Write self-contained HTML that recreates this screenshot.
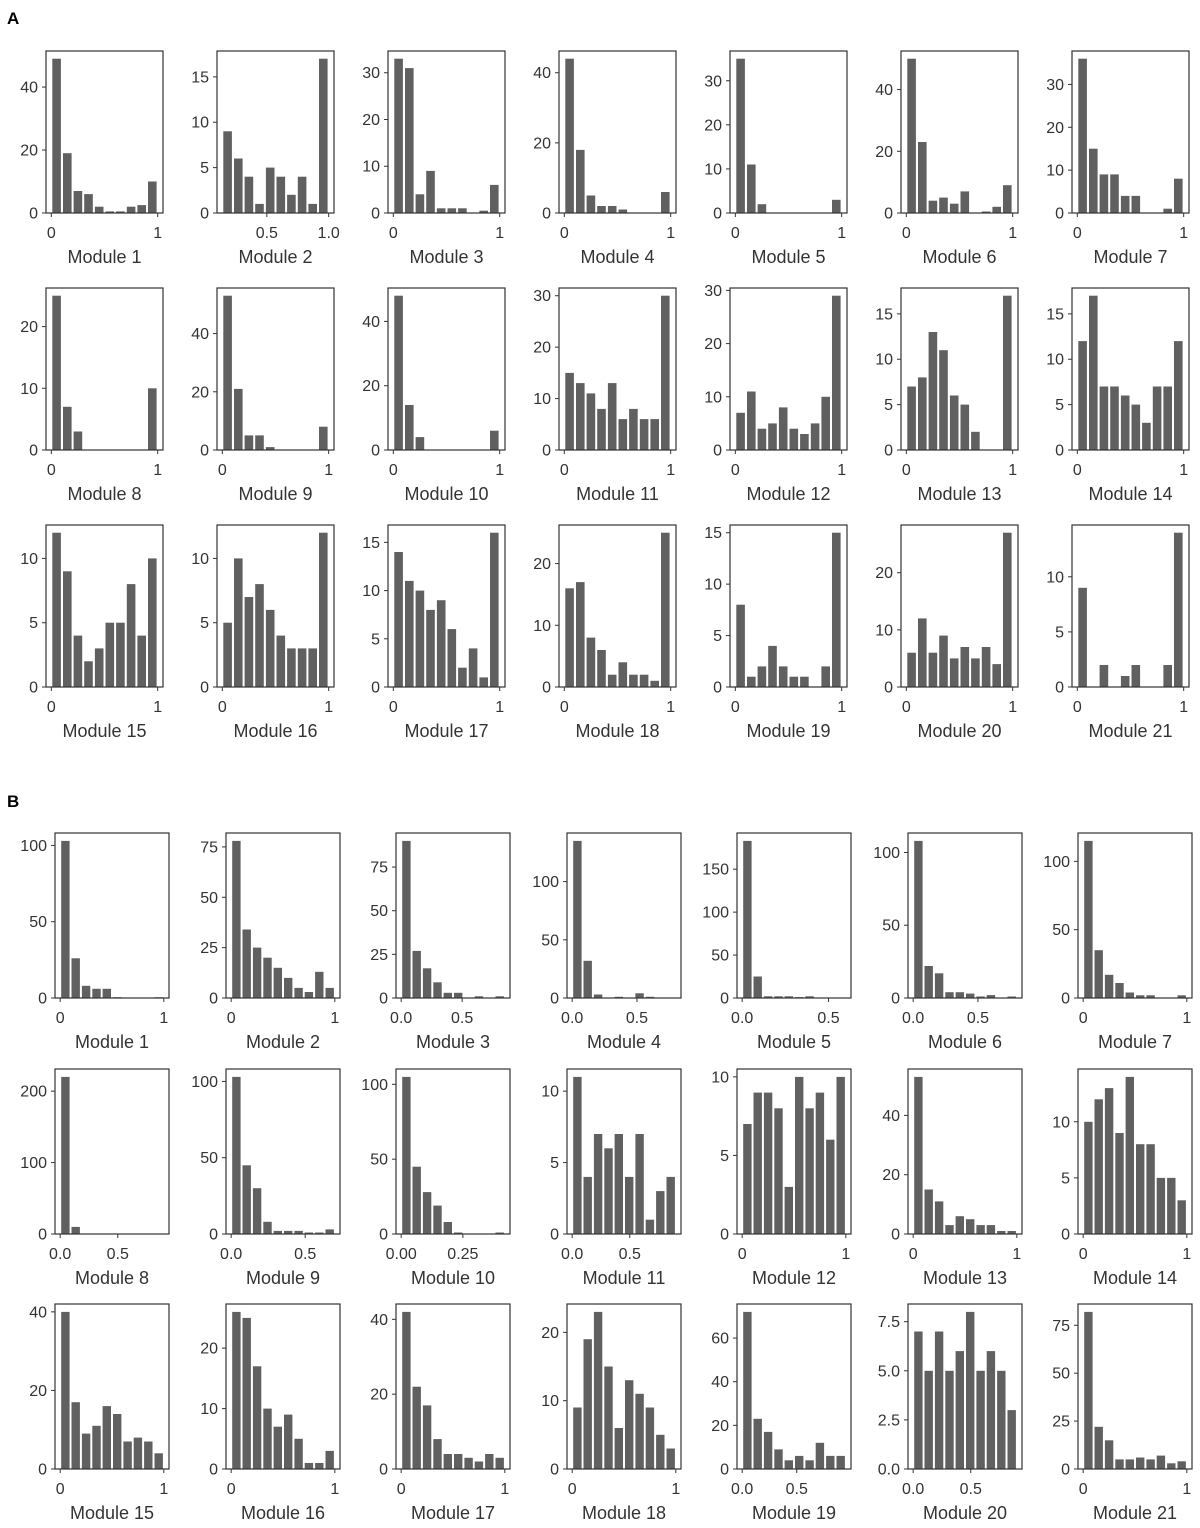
<!DOCTYPE html>
<html><head><meta charset="utf-8"><style>
html,body{margin:0;padding:0;background:#fff}
svg{display:block}
text{font-family:"Liberation Sans",Arial,sans-serif;fill:#333}
</style></head><body>
<svg id="s" width="1200" height="1528" xmlns="http://www.w3.org/2000/svg">
<rect width="1200" height="1528" fill="#fff"/>
<text x="7" y="24" style="font-weight:bold;font-size:17px;fill:#000">A</text>
<text x="7" y="807" style="font-weight:bold;font-size:17px;fill:#000">B</text>
</svg>
<script>
var s=document.getElementById('s');var out='';
var D01=[[0,'0'],[1,'1']];
function P(x0,y0,w,h,c,xmin,xmax,xt,yt,lab){
 var r=xmax-xmin,lo=xmin-0.05*r,hi=xmax+0.05*r;
 var mx=Math.max.apply(null,c)*1.05;
 var X=function(v){return x0+(v-lo)/(hi-lo)*w};
 var Y=function(v){return y0+h-v/mx*h};
 var bw=r/c.length;
 for(var i=0;i<c.length;i++){
  if(c[i]<=0)continue;
  var a=X(xmin+i*bw)+1,b=X(xmin+(i+1)*bw)-1;
  out+='<rect x="'+a.toFixed(1)+'" y="'+Y(c[i]).toFixed(1)+'" width="'+(b-a).toFixed(1)+'" height="'+(y0+h-Y(c[i])).toFixed(1)+'" fill="#606060"/>';
 }
 out+='<rect x="'+x0+'" y="'+y0+'" width="'+w+'" height="'+h+'" fill="none" stroke="#333" stroke-width="1.2"/>';
 xt.forEach(function(t){var xx=X(t[0]);
  out+='<line x1="'+xx+'" y1="'+(y0+h)+'" x2="'+xx+'" y2="'+(y0+h+4)+'" stroke="#333"/>';
  out+='<text x="'+xx+'" y="'+(y0+h+25)+'" text-anchor="middle" font-size="16">'+t[1]+'</text>';});
 yt.forEach(function(t){var v=+t,yy=Y(v);
  out+='<line x1="'+(x0-4)+'" y1="'+yy+'" x2="'+x0+'" y2="'+yy+'" stroke="#333"/>';
  out+='<text x="'+(x0-8)+'" y="'+(yy+5.5)+'" text-anchor="end" font-size="16">'+t+'</text>';});
 out+='<text x="'+(x0+w/2)+'" y="'+(y0+h+50)+'" text-anchor="middle" font-size="18">'+lab+'</text>';
}
var A=[
[[49,19,7,6,2,.5,.5,2,2.5,10],0,1,D01,['0','20','40']],
[[9,6,4,1,5,4,2,4,1,17],.14,1,[[.5,'0.5'],[1,'1.0']],['0','5','10','15']],
[[33,31,4,9,1,1,1,0,.5,6],0,1,D01,['0','10','20','30']],
[[44,18,5,2,2,1,0,0,0,6],0,1,D01,['0','20','40']],
[[35,11,2,0,0,0,0,0,0,3],0,1,D01,['0','10','20','30']],
[[50,23,4,5,3,7,0,.5,2,9],0,1,D01,['0','20','40']],
[[36,15,9,9,4,4,0,0,1,8],0,1,D01,['0','10','20','30']],
[[25,7,3,0,0,0,0,0,0,10],0,1,D01,['0','10','20']],
[[53,21,5,5,1,0,0,0,0,8],0,1,D01,['0','20','40']],
[[48,14,4,0,0,0,0,0,0,6],0,1,D01,['0','20','40']],
[[15,13,11,8,13,6,8,6,6,30],0,1,D01,['0','10','20','30']],
[[7,11,4,5,8,4,3,5,10,29],0,1,D01,['0','10','20','30']],
[[7,8,13,11,6,5,2,0,0,17],0,1,D01,['0','5','10','15']],
[[12,17,7,7,6,5,3,7,7,12],0,1,D01,['0','5','10','15']],
[[12,9,4,2,3,5,5,8,4,10],0,1,D01,['0','5','10']],
[[5,10,7,8,6,4,3,3,3,12],0,1,D01,['0','5','10']],
[[14,11,10,8,9,6,2,4,1,16],0,1,D01,['0','5','10','15']],
[[16,17,8,6,2,4,2,2,1,25],0,1,D01,['0','10','20']],
[[8,1,2,4,2,1,1,0,2,15],0,1,D01,['0','5','10','15']],
[[6,12,6,9,5,7,5,7,4,27],0,1,D01,['0','10','20']],
[[9,0,2,0,1,2,0,0,2,14],0,1,D01,['0','5','10']]];
var h5=[[0,'0.0'],[.5,'0.5']];
var B=[
[[103,26,8,6,6,.5,.3,.3,.3,.5],0,1,D01,['0','50','100']],
[[78,34,25,20,15,10,5,3,13,5],0,1,D01,['0','25','50','75']],
[[90,27,17,9,3,3,0,1,0,1],0,.85,h5,['0','25','50','75']],
[[135,32,3,0,1,0,4,1,0,0],0,.8,h5,['0','50','100']],
[[183,25,2,2,2,1,2,0,0,0],0,.6,h5,['0','50','100','150']],
[[108,22,17,4,4,3,1,2,0,1],0,.8,h5,['0','50','100']],
[[115,35,17,11,4,2,2,0,0,2],0,1,D01,['0','50','100']],
[[220,10,0,0,0,0,0,0,0,0],0,.9,h5,['0','100','200']],
[[103,45,30,8,2,2,2,1,1,3],0,.7,h5,['0','50','100']],
[[105,45,28,19,8,1,0,0,0,1],0,.42,[[0,'0.00'],[.25,'0.25']],['0','50','100']],
[[11,4,7,6,7,4,7,1,3,4],0,.9,h5,['0','5','10']],
[[7,9,9,8,3,10,8,9,6,10],0,1,D01,['0','5','10']],
[[53,15,11,3,6,5,3,3,1,1],0,1,D01,['0','20','40']],
[[10,12,13,9,14,8,8,5,5,3],0,1,D01,['0','5','10']],
[[40,17,9,11,16,14,7,8,7,4],0,1,D01,['0','20','40']],
[[26,25,17,10,7,9,5,1,1,3],0,1,D01,['0','10','20']],
[[42,22,17,8,4,4,3,2,4,3],0,1,D01,['0','20','40']],
[[9,19,23,15,6,13,11,9,5,3],0,1,D01,['0','10','20']],
[[72,23,17,9,4,6,4,12,6,6],0,.95,h5,['0','20','40','60']],
[[7,5,7,5,6,8,5,6,5,3],0,.9,h5,['0.0','2.5','5.0','7.5']],
[[82,22,15,5,5,6,5,7,3,4],0,1,D01,['0','25','50','75']]];
A.forEach(function(d,i){var c=i%7,r=Math.floor(i/7);P(46+171*c,51+237*r,117,162,d[0],d[1],d[2],d[3],d[4],'Module '+(i+1));});
B.forEach(function(d,i){var c=i%7,r=Math.floor(i/7);P(Math.round(55+170.5*c),Math.round(833+235.5*r),114,165,d[0],d[1],d[2],d[3],d[4],'Module '+(i+1));});
s.insertAdjacentHTML('beforeend',out);
</script>
</body></html>
